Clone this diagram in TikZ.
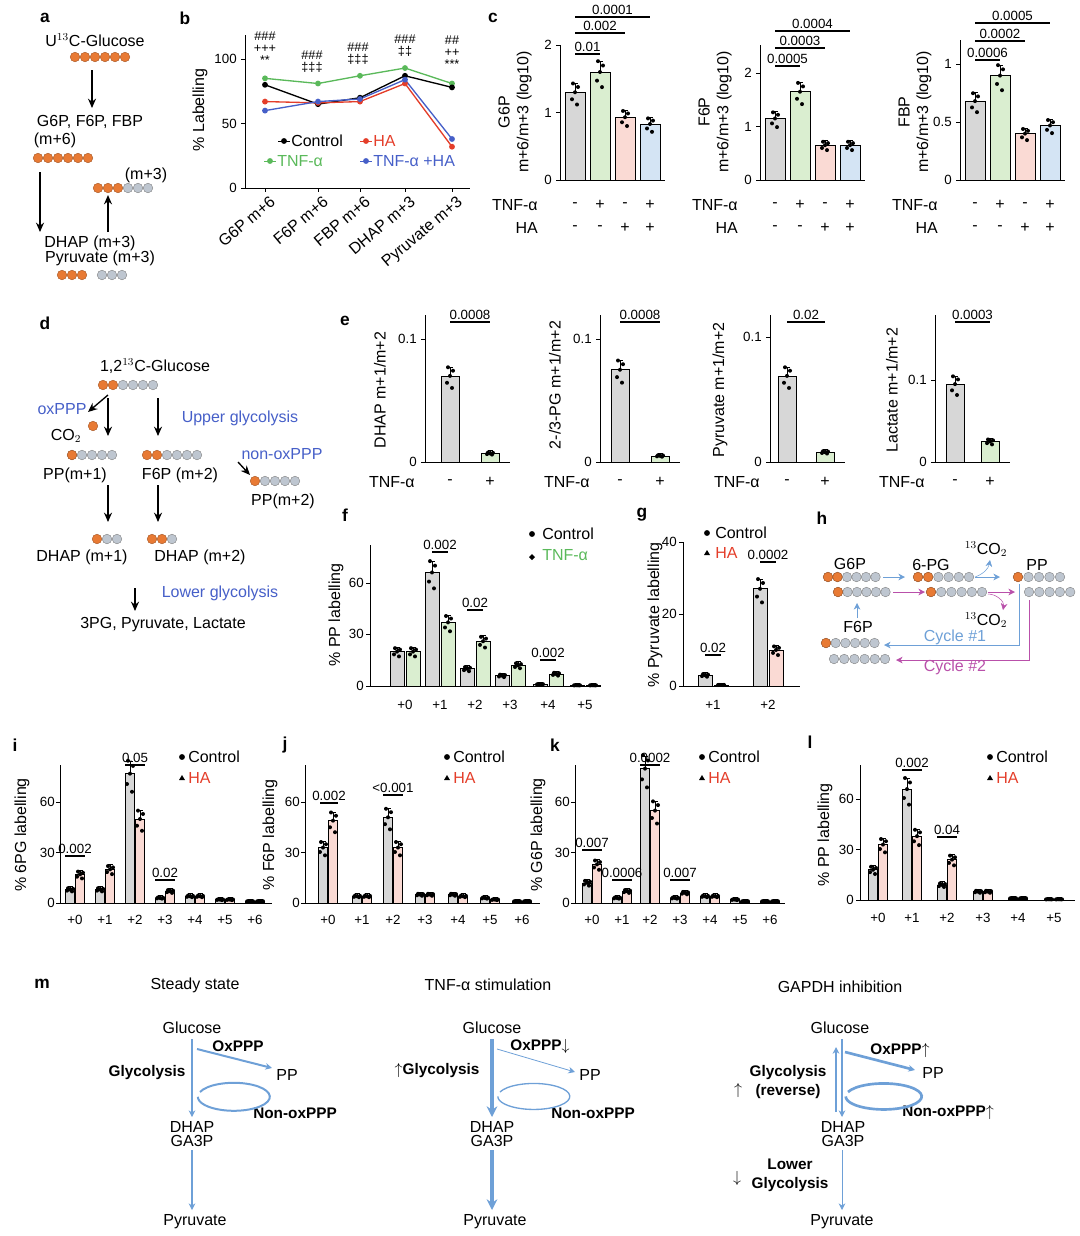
\documentclass[tikz,border=0pt]{standalone}
\usepackage{fontspec}
\setmainfont{Liberation Sans}
\usetikzlibrary{arrows.meta}
\definecolor{or}{RGB}{232,122,52}
\definecolor{gb}{RGB}{190,198,208}
\definecolor{bgrey}{RGB}{215,215,215}
\definecolor{bgreen}{RGB}{218,238,208}
\definecolor{bpink}{RGB}{250,218,212}
\definecolor{bblue}{RGB}{212,228,244}
\definecolor{lgreen}{RGB}{90,185,90}
\definecolor{hred}{RGB}{228,62,42}
\definecolor{tblue}{RGB}{70,95,200}
\definecolor{mblue}{RGB}{110,160,215}
\definecolor{pur}{RGB}{185,80,170}
\newcommand\OB[2]{\filldraw[fill=or,draw=or!70!black,line width=0.3pt] (#1,#2) circle (3.6pt);}
\newcommand\GBall[2]{\filldraw[fill=gb,draw=gray,line width=0.3pt] (#1,#2) circle (3.6pt);}
\newcommand\Bar[3]{\filldraw[fill=#3,line width=0.5pt] ({#1-\hw},\zero) rectangle ({#1+\hw},{\zero-\sc*#2});
 \draw[line width=0.5pt] (#1,{\zero-\sc*#2}) -- ++(0,{-\sc*#2*0.08-2}) ++(-2.5,0) -- ++(5,0);
 \foreach \dx/\f in {-3/0.92,3/1.06,0/1.0,2/0.86,-2/1.1}{\fill (#1+\dx,{\zero-\sc*#2*\f}) circle (1.5pt);}}
\newcommand\Sig[4]{\draw[line width=0.8pt] (#1,#3)--(#2,#3); \node[s,anchor=south] at ({(#1+#2)/2},#3-2) {#4};}
\begin{document}
\begin{tikzpicture}[x=0.75pt,y=-0.75pt,
 t/.style={font=\fontsize{12}{14}\selectfont,inner sep=0},
 s/.style={font=\fontsize{10}{12}\selectfont,inner sep=0},
 tk/.style={font=\fontsize{9.5}{11}\selectfont,inner sep=0},
 lb/.style={font=\bfseries\fontsize{13}{15}\selectfont,inner sep=0},
 bt/.style={font=\bfseries\fontsize{11.5}{14}\selectfont,inner sep=0},
 ar/.style={-{Stealth[length=7pt,width=6pt]},line width=1.3pt},
 mb/.style={mblue,-{Stealth[length=5pt,width=5pt]}}]
\useasboundingbox (0,0) rectangle (1080,1236);
% ---------- a
\node[lb] (la) at (45,18) {a};
\node[t] (ua) at (95,40) {U$^{13}$C-Glucose};
\foreach \i in {0,...,5}{\OB{75+\i*10}{57}}
\node[t] (g6) at (90,122) {G6P, F6P, FBP};
\node[t] (m6) at (55,140) {(m+6)};
\foreach \i in {0,...,5}{\OB{38+\i*10}{158}}
\draw[ar] (92,70) -- (92,108);
\draw[ar] (40,172) -- (40,232);
\draw[ar] (108,232) -- (108,195);
\foreach \i in {0,1,2}{\OB{98+\i*10}{188}}
\foreach \i in {3,4,5}{\GBall{98+\i*10}{188}}
\node[t] (m3) at (146,175) {(m+3)};
\node[t] (dh) at (90,243) {DHAP (m+3)};
\node[t] (py) at (100,258) {Pyruvate (m+3)};
\foreach \i in {0,1,2}{\OB{62+\i*10}{275}\GBall{102+\i*10}{275}}
% ---------- b
\node[lb] (lb) at (185,18) {b};
\draw[line width=0.6pt] (245,35) -- (245,188) -- (470,188);
\foreach \v/\l in {0/0,50/50,100/100}{\draw (245,188-1.29*\v) -- ++(-4,0); \node[s,anchor=east] at (237,188-1.29*\v) {\l};}
\node[t,rotate=90] at (200,110) {\% Labelling};
\foreach \x/\l in {265/G6P m+6,318/F6P m+6,360/FBP m+6,405/DHAP m+3,452/Pyruvate m+3}{\draw (\x,188)--(\x,192); \node[t,rotate=40,anchor=north east] at (\x+4,195) {\l};}
\draw[lgreen,line width=1pt] (265,{188-1.29*85}) -- (318,{188-1.29*81}) -- (360,{188-1.29*87}) -- (405,{188-1.29*93}) -- (452,{188-1.29*81});
\draw[black,line width=1pt] (265,{188-1.29*80}) -- (318,{188-1.29*65}) -- (360,{188-1.29*70}) -- (405,{188-1.29*87}) -- (452,{188-1.29*78});
\draw[hred,line width=1pt] (265,{188-1.29*67}) -- (318,{188-1.29*66}) -- (360,{188-1.29*67}) -- (405,{188-1.29*81}) -- (452,{188-1.29*32});
\draw[tblue,line width=1pt] (265,{188-1.29*60}) -- (318,{188-1.29*67}) -- (360,{188-1.29*69}) -- (405,{188-1.29*84}) -- (452,{188-1.29*38});
\foreach \x/\a/\b/\c/\d in {265/85/80/67/60,318/81/65/66/67,360/87/70/67/69,405/93/87/81/84,452/81/78/32/38}{
 \fill[lgreen] (\x,{188-1.29*\a}) circle (2.2pt); \fill (\x,{188-1.29*\b}) circle (2.2pt);
 \fill[hred] (\x,{188-1.29*\c}) circle (2.2pt); \fill[tblue] (\x,{188-1.29*\d}) circle (2.2pt);}
\draw[black,line width=0.7pt] (278,141)--(290,141); \fill (284,141) circle (2.2pt); \node[t,anchor=west] at (291,141) {Control};
\draw[hred,line width=0.7pt] (360,141)--(372,141); \fill[hred] (366,141) circle (2.2pt); \node[t,anchor=west,text=hred] at (373,141) {HA};
\draw[lgreen,line width=0.7pt] (264,161)--(276,161); \fill[lgreen] (270,161) circle (2.2pt); \node[t,anchor=west,text=lgreen] at (277,161) {TNF-α};
\draw[tblue,line width=0.7pt] (360,161)--(372,161); \fill[tblue] (366,161) circle (2.2pt); \node[t,anchor=west,text=tblue] at (373,161) {TNF-α +HA};
\node[tk,align=center] at (265,48) {\#\#\#\\[-2pt]+++\\[-2pt]**};
\node[tk,align=center] at (312,62) {\#\#\#\\[-2pt]‡‡‡};
\node[tk,align=center] at (358,54) {\#\#\#\\[-2pt]‡‡‡};
\node[tk,align=center] at (405,46) {\#\#\#\\[-2pt]‡‡};
\node[tk,align=center] at (452,52) {\#\#\\[-2pt]++\\[-2pt]***};
% ---------- c
\node[lb] (lc) at (493,18) {c};
\def\hw{10}
% G6P
\def\zero{180}\def\sc{67.5}
\draw[line width=0.6pt] (560,45) -- (560,180) -- (665,180);
\foreach \v in {0,1,2}{\draw (560,{180-67.5*\v}) -- ++(-4,0); \node[s,anchor=east] at (552,{180-67.5*\v}) {\v};}
\node[t,rotate=90,align=center] at (515,112) {G6P\\m+6/m+3 (log10)};
\Bar{575}{1.3}{bgrey}\Bar{600}{1.6}{bgreen}\Bar{625}{0.93}{bpink}\Bar{650}{0.83}{bblue}
\Sig{575}{600}{54}{0.01}\Sig{575}{625}{33}{0.002}\Sig{575}{650}{17}{0.0001}
% F6P
\def\sc{53.5}
\draw[line width=0.6pt] (760,45) -- (760,180) -- (865,180);
\foreach \v in {0,1,2}{\draw (760,{180-53.5*\v}) -- ++(-4,0); \node[s,anchor=east] at (752,{180-53.5*\v}) {\v};}
\node[t,rotate=90,align=center] at (715,112) {F6P\\m+6/m+3 (log10)};
\Bar{775}{1.15}{bgrey}\Bar{800}{1.65}{bgreen}\Bar{825}{0.65}{bpink}\Bar{850}{0.65}{bblue}
\Sig{775}{800}{66}{0.0005}\Sig{775}{825}{48}{0.0003}\Sig{775}{850}{31}{0.0004}
% FBP
\def\sc{116}
\draw[line width=0.6pt] (960,40) -- (960,180) -- (1065,180);
\foreach \v/\l in {0/0,0.5/0.5,1/1}{\draw (960,{180-116*\v}) -- ++(-4,0); \node[s,anchor=east] at (952,{180-116*\v}) {\l};}
\node[t,rotate=90,align=center] at (915,112) {FBP\\m+6/m+3 (log10)};
\Bar{975}{0.68}{bgrey}\Bar{1000}{0.9}{bgreen}\Bar{1025}{0.4}{bpink}\Bar{1050}{0.47}{bblue}
\Sig{975}{1000}{60}{0.0006}\Sig{975}{1025}{41}{0.0002}\Sig{975}{1050}{23}{0.0005}
\foreach \o in {0,200,400}{
 \node[t,anchor=east] at (538+\o,205) {TNF-α};
 \node[t,anchor=east] at (538+\o,228) {HA};
 \foreach \x/\a/\b in {575/-/-,600/+/-,625/-/+,650/+/+}{\node[t] at (\x+\o,205) {\a}; \node[t] at (\x+\o,228) {\b};}}
% ---------- d
\node[lb] (ld) at (45,323) {d};
\node[t] (d1) at (155,366) {1,2$^{13}$C-Glucose};
\OB{103}{385}\OB{113}{385}\foreach \i in {2,...,5}{\GBall{103+\i*10}{385}}
\node[t,text=tblue] at (62,409) {oxPPP};
\node[t,text=tblue] at (240,418) {Upper glycolysis};
\draw[ar,line width=1pt] (108,395) -- (88,412);
\draw[ar] (108,398) -- (108,436);
\draw[ar] (158,398) -- (158,436);
\node[t] at (66,436) {CO$_2$}; \OB{93}{426}
\foreach \i in {0,...,4}{\GBall{72+\i*10}{455}} \OB{72}{455}
\OB{147}{455}\OB{157}{455}\foreach \i in {2,...,5}{\GBall{147+\i*10}{455}}
\node[t] at (75,475) {PP(m+1)};
\node[t] at (180,475) {F6P (m+2)};
\node[t,text=tblue] at (282,454) {non-oxPPP};
\draw[ar,line width=1pt] (238,462) -- (250,475);
\OB{255}{481}\foreach \i in {1,...,4}{\GBall{255+\i*10}{481}}
\node[t] at (283,501) {PP(m+2)};
\draw[ar] (108,485) -- (108,522);
\draw[ar] (158,485) -- (158,522);
\OB{97}{539}\GBall{107}{539}\GBall{117}{539}
\OB{152}{539}\OB{162}{539}\GBall{172}{539}
\node[t] at (82,557) {DHAP (m+1)};
\node[t] at (200,557) {DHAP (m+2)};
\draw[ar] (135,588) -- (135,611);
\node[t,text=tblue] at (220,593) {Lower glycolysis};
\node[t] at (163,625) {3PG, Pyruvate, Lactate};
% ---------- e
\node[lb] (le) at (345,321) {e};
\def\hw{9}\def\zero{462}
\def\sc{1230}
\draw[line width=0.6pt] (425,315)--(425,462)--(510,462);
\draw (425,339)--++(-4,0); \node[s,anchor=east] at (417,339) {0.1}; \draw (425,462)--++(-4,0); \node[s,anchor=east] at (417,462) {0};
\node[t,rotate=90] at (380,390) {DHAP m+1/m+2};
\Bar{450}{0.07}{bgrey}\Bar{490}{0.007}{bgreen}\Sig{450}{490}{322}{0.0008}
\draw[line width=0.6pt] (600,315)--(600,462)--(680,462);
\draw (600,339)--++(-4,0); \node[s,anchor=east] at (592,339) {0.1}; \draw (600,462)--++(-4,0); \node[s,anchor=east] at (592,462) {0};
\node[t,rotate=90] at (555,385) {2-/3-PG m+1/m+2};
\Bar{620}{0.075}{bgrey}\Bar{660}{0.005}{bgreen}\Sig{620}{660}{322}{0.0008}
\draw[line width=0.6pt] (770,315)--(770,462)--(845,462);
\draw (770,337)--++(-4,0); \node[s,anchor=east] at (762,337) {0.1}; \draw (770,462)--++(-4,0); \node[s,anchor=east] at (762,462) {0};
\node[t,rotate=90] at (720,390) {Pyruvate m+1/m+2};
\Bar{787}{0.07}{bgrey}\Bar{825}{0.008}{bgreen}\Sig{787}{825}{322}{0.02}
\def\sc{820}
\draw[line width=0.6pt] (935,315)--(935,462)--(1010,462);
\draw (935,380)--++(-4,0); \node[s,anchor=east] at (927,380) {0.1}; \draw (935,462)--++(-4,0); \node[s,anchor=east] at (927,462) {0};
\node[t,rotate=90] at (892,390) {Lactate m+1/m+2};
\Bar{955}{0.095}{bgrey}\Bar{990}{0.025}{bgreen}\Sig{955}{990}{322}{0.0003}
\foreach \o/\a/\b in {0/450/490,175/620/660,345/787/825,510/955/990}{
 \node[t,anchor=east] at (415+\o,482) {TNF-α}; \node[t] at (\a,482) {-}; \node[t] at (\b,482) {+};}
% ---------- f
\node[lb] (lf) at (345,515) {f};
\def\hw{7}\def\zero{686}\def\sc{1.72}
\draw[line width=0.6pt] (370,545)--(370,686)--(600,686);
\foreach \v in {0,30,60}{\draw (370,{686-1.72*\v})--++(-4,0); \node[s,anchor=east] at (364,{686-1.72*\v}) {\v};}
\node[t,rotate=90] at (336,615) {\% PP labelling};
\foreach \g/\c/\tn/\l in {405/20/20/+0,440/66/37/+1,475/10/26/+2,510/6/12/+3,548/1/7/+4,585/0.4/0.4/+5}{
 \Bar{\g-8}{\c}{bgrey}\Bar{\g+8}{\tn}{bgreen}\node[s] at (\g,705) {\l};}
\Sig{432}{448}{552}{0.002}\Sig{467}{483}{610}{0.02}\Sig{540}{556}{660}{0.002}
\fill (532,534) circle (2.2pt); \node[t,anchor=west] at (542,534) {Control};
\fill (532,554) -- ++(3,3) -- ++(-3,3) -- ++(-3,-3) -- cycle; \node[t,anchor=west,text=lgreen] at (542,555) {TNF-α};
% ---------- g
\node[lb] (lg) at (642,515) {g};
\def\zero{686}\def\sc{3.6}
\draw[line width=0.6pt] (683,542)--(683,686)--(800,686);
\foreach \v in {0,20,40}{\draw (683,{686-3.6*\v})--++(-4,0); \node[s,anchor=east] at (677,{686-3.6*\v}) {\v};}
\node[t,rotate=90] at (655,615) {\% Pyruvate labelling};
\Bar{705}{3}{bgrey}\Bar{721}{0.3}{bpink}\node[s] at (713,705) {+1};
\Bar{760}{27}{bgrey}\Bar{776}{10}{bpink}\node[s] at (768,705) {+2};
\Sig{705}{721}{655}{0.02}\Sig{760}{776}{562}{0.0002}
\fill (707,533) circle (2.2pt); \node[t,anchor=west] at (715,533) {Control};
\fill (707,550) -- ++(3,5) -- ++(-6,0) -- cycle; \node[t,anchor=west,text=hred] at (715,553) {HA};
% ---------- h
\node[lb] (lh) at (822,518) {h};
\node[t] (hg) at (850,564) {G6P};
\node[t] (hp) at (931,565) {6-PG};
\node[t] (hpp) at (1037,565) {PP};
\node[t] (hf) at (858,627) {F6P};
\node[t] at (986,549) {$^{13}$CO$_2$};
\node[t] at (986,620) {$^{13}$CO$_2$};
\foreach \i in {0,...,5}{\GBall{828+\i*9.5}{577}\GBall{838+\i*9.5}{592}\GBall{918+\i*10.2}{577}\GBall{931+\i*10.2}{592}\GBall{826+\i*9.7}{643}\GBall{834+\i*10.2}{659}}
\OB{828}{577}\OB{837.5}{577}\OB{838}{592}\OB{918}{577}\OB{928.2}{577}\OB{931}{592}\OB{826}{643}
\foreach \i in {0,...,4}{\GBall{1018+\i*10.5}{577}\GBall{1029+\i*10.3}{592}}\OB{1018}{577}
\draw[mb] (883,577)--(905,577);
\draw[mb] (975,577)--(1000,577);
\draw[mb] (975,577) to[out=20,in=-100] (990,560);
\draw[pur,-{Stealth[length=5pt,width=5pt]}] (893,592)--(925,592);
\draw[pur,-{Stealth[length=5pt,width=5pt]}] (988,592)--(1015,592);
\draw[pur,-{Stealth[length=5pt,width=5pt]}] (988,594) to[out=0,in=80] (1003,610);
\draw[mb] (857,618)--(857,603);
\draw[mb] (1019,584)--(1019,645)--(884,645);
\draw[pur,-{Stealth[length=5pt,width=5pt]}] (1029,600)--(1029,660)--(896,660);
\node[t,text=mblue] at (955,637) {Cycle \#1};
\node[t,text=pur] at (955,667) {Cycle \#2};
% ---------- i-l
\def\zero{903}\def\sc{1.68}\def\hw{4.5}
\node[lb] at (15,745) {i};
\draw[line width=0.6pt] (60,765)--(60,903)--(272,903);
\foreach \v in {0,30,60}{\draw (60,{903-1.68*\v})--++(-4,0); \node[s,anchor=east] at (55,{903-1.68*\v}) {\v};}
\node[t,rotate=90] at (22,835) {\% 6PG labelling};
\foreach \g/\c/\h/\l in {75/8/17/+0,105/8/20/+1,135/77/50/+2,165/3/7/+3,195/4/4/+4,225/2/2/+5,255/1/1/+6}{\Bar{\g-5}{\c}{bgrey}\Bar{\g+5}{\h}{bpink}\node[s] at (\g,920) {\l};}
\Sig{65}{85}{856}{0.002}\Sig{125}{145}{765}{0.05}\Sig{155}{175}{880}{0.02}
\node[lb] at (285,745) {j};
\draw[line width=0.6pt] (305,765)--(305,903)--(540,903);
\foreach \v in {0,30,60}{\draw (305,{903-1.68*\v})--++(-4,0); \node[s,anchor=east] at (300,{903-1.68*\v}) {\v};}
\node[t,rotate=90] at (270,835) {\% F6P labelling};
\foreach \g/\c/\h/\l in {328/33/49/+0,362/4/4/+1,393/51/33/+2,425/5/5/+3,458/5/4/+4,490/3/2/+5,522/1/1/+6}{\Bar{\g-5}{\c}{bgrey}\Bar{\g+5}{\h}{bpink}\node[s] at (\g,920) {\l};}
\Sig{320}{338}{803}{0.002}\Sig{383}{403}{795}{<0.001}
\node[lb] at (555,745) {k};
\draw[line width=0.6pt] (575,765)--(575,903)--(785,903);
\foreach \v in {0,30,60}{\draw (575,{903-1.68*\v})--++(-4,0); \node[s,anchor=east] at (570,{903-1.68*\v}) {\v};}
\node[t,rotate=90] at (538,835) {\% G6P labelling};
\foreach \g/\c/\h/\l in {592/12/23/+0,622/3/7/+1,650/80/55/+2,680/3/6/+3,710/4/4/+4,740/2/1/+5,770/1/1/+6}{\Bar{\g-5}{\c}{bgrey}\Bar{\g+5}{\h}{bpink}\node[s] at (\g,920) {\l};}
\Sig{582}{602}{850}{0.007}\Sig{612}{632}{880}{0.0006}\Sig{640}{660}{765}{0.0002}\Sig{670}{690}{880}{0.007}
\node[lb] at (810,742) {l};
\def\zero{900}
\draw[line width=0.6pt] (860,765)--(860,900)--(1075,900);
\foreach \v in {0,30,60}{\draw (860,{900-1.68*\v})--++(-4,0); \node[s,anchor=east] at (854,{900-1.68*\v}) {\v};}
\node[t,rotate=90] at (825,835) {\% PP labelling};
\foreach \g/\c/\h/\l in {878/18/33/+0,912/66/38/+1,947/9/24/+2,983/5/5/+3,1018/1/1/+4,1054/0.4/0.4/+5}{\Bar{\g-5}{\c}{bgrey}\Bar{\g+5}{\h}{bpink}\node[s] at (\g,918) {\l};}
\Sig{902}{922}{770}{0.002}\Sig{937}{957}{837}{0.04}
\foreach \lx in {190,455,710,998}{
 \fill (\lx-8,757) circle (2.2pt); \node[t,anchor=west] at (\lx-2,757) {Control};
 \fill (\lx-8,775) -- ++(3,5) -- ++(-6,0) -- cycle; \node[t,anchor=west,text=hred] at (\lx-2,778) {HA};}
% ---------- m
\node[lb] at (42,984) {m};
\node[t] at (195,985) {Steady state};
\node[t] at (488,985) {TNF-α stimulation};
\node[t] at (840,987) {GAPDH inhibition};
\node[t] (ga) at (192,1028) {Glucose};
\node[t] (da) at (192,1127) {DHAP};
\node[t] (gaa) at (192,1141) {GA3P};
\node[t] (pa) at (195,1222) {Pyruvate};
\node[t] (ppa) at (287,1075) {PP};
\node[bt] at (238,1046) {OxPPP};
\node[bt] at (147,1073) {Glycolysis};
\node[bt] at (295,1113) {Non-oxPPP};
\draw[mb,line width=1.5pt] (192,1039)--(192,1117);
\draw[mb,line width=1.5pt] (192,1150)--(192,1210);
\draw[mb,line width=1.5pt] (197,1049)--(272,1068);
\draw[mblue,line width=1.5pt] (200,1092) arc[start angle=200,end angle=540,x radius=36,y radius=14];
\node[t] (gb) at (492,1028) {Glucose};
\node[t] (db) at (492,1127) {DHAP};
\node[t] at (492,1141) {GA3P};
\node[t] (pb) at (495,1222) {Pyruvate};
\node[t] at (590,1075) {PP};
\node[bt] at (540,1046) {OxPPP$\downarrow$};
\node[bt] at (437,1071) {$\uparrow$Glycolysis};
\node[bt] at (593,1113) {Non-oxPPP};
\draw[mb,line width=3pt,-{Stealth[length=8pt,width=8pt]}] (492,1039)--(492,1117);
\draw[mb,line width=3pt,-{Stealth[length=8pt,width=8pt]}] (492,1150)--(492,1210);
\draw[mb,line width=0.6pt] (497,1049)--(575,1072);
\draw[mblue,line width=1pt] (500,1092) arc[start angle=200,end angle=540,x radius=36,y radius=13];
\node[t] (gc) at (840,1028) {Glucose};
\node[t] (dc) at (843,1127) {DHAP};
\node[t] at (843,1141) {GA3P};
\node[t] (pc) at (842,1222) {Pyruvate};
\node[t] at (933,1073) {PP};
\node[bt] at (900,1050) {OxPPP$\uparrow$};
\node[bt,align=center] at (788,1082) {Glycolysis\\(reverse)};
\node[t] at (738,1090) {$\uparrow$};
\node[bt] at (948,1112) {Non-oxPPP$\uparrow$};
\node[t] at (737,1178) {$\downarrow$};
\node[bt,align=center] at (790,1175) {Lower\\Glycolysis};
\draw[mb,line width=1.5pt] (842,1039)--(842,1117);
\draw[mb,line width=1.5pt] (836,1112)--(836,1047);
\draw[mb,line width=0.6pt] (842,1150)--(842,1210);
\draw[mb,line width=2pt] (845,1052)--(915,1070);
\draw[mblue,line width=2pt] (848,1092) arc[start angle=200,end angle=540,x radius=38,y radius=13];
\end{tikzpicture}
\end{document}
